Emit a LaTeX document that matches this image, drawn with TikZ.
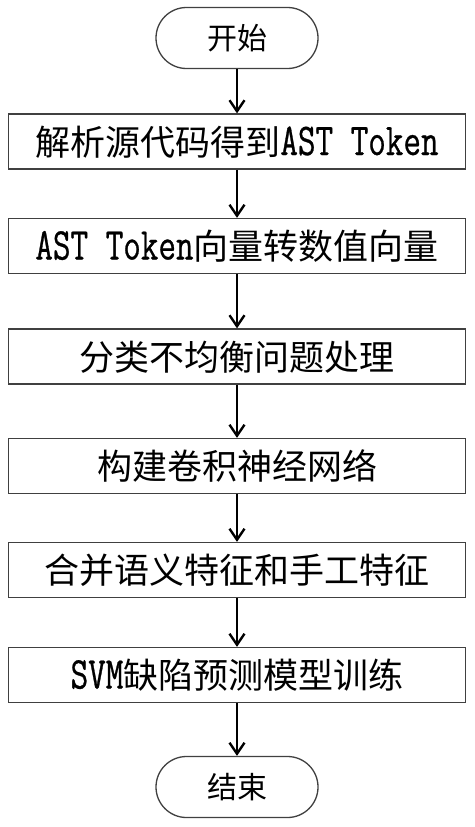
\documentclass[tikz,border=0pt]{standalone}
\usepackage{fontspec}
\setmainfont{Noto Sans CJK SC}
\newfontfamily\cjk{Noto Sans CJK SC}
\newfontfamily\lat[FakeStretch=0.75,Scale=1.3,FakeBold=0.6]{Latin Modern Mono}
\usetikzlibrary{arrows.meta}
\begin{document}
\begin{tikzpicture}[x=1pt,y=-1pt,
  stepbox/.style={draw=black!75, line width=1.3pt, minimum width=457pt, minimum height=55pt,
    inner sep=0pt, text height=30pt, text depth=3pt, font=\fontsize{35}{40}\selectfont},
  term/.style={draw=black!75, line width=1.3pt, minimum width=162pt, minimum height=61pt,
    rounded corners=30.5pt, inner sep=0pt, text height=26pt, text depth=3pt, font=\fontsize{30}{36}\selectfont},
  arr/.style={-{Straight Barb[length=11pt,width=15pt,line width=2.4pt]}, line width=2.6pt}]
\useasboundingbox (0,0) rectangle (474,827);
\node[term] (s) at (237,38) {\cjk 开始};
\node[stepbox] (b1) at (237,141.5) {\cjk 解析源代码得到\lat AST Token};
\node[stepbox] (b2) at (237,246) {\lat AST Token\cjk 向量转数值向量};
\node[stepbox] (b3) at (237,356.5) {\cjk 分类不均衡问题处理};
\node[stepbox] (b4) at (237,466) {\cjk 构建卷积神经网络};
\node[stepbox] (b5) at (237,570) {\cjk 合并语义特征和手工特征};
\node[stepbox] (b6) at (237,675) {\lat SVM\cjk 缺陷预测模型训练};
\node[term] (e) at (237,787) {\cjk 结束};
\draw[arr] (s) -- (b1);
\draw[arr] (b1) -- (b2);
\draw[arr] (b2) -- (b3);
\draw[arr] (b3) -- (b4);
\draw[arr] (b4) -- (b5);
\draw[arr] (b5) -- (b6);
\draw[arr] (b6) -- (e);
\end{tikzpicture}
\end{document}
